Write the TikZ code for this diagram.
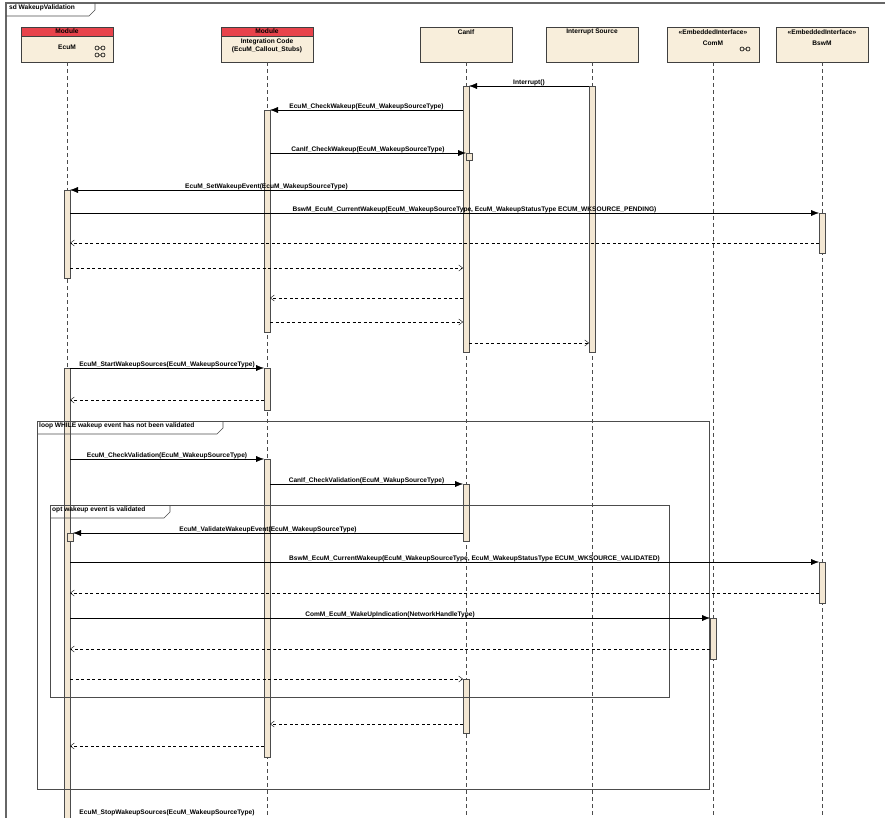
\documentclass[tikz,border=0pt]{standalone}
\usepackage{fontspec}
\setmainfont{Liberation Sans}
\usetikzlibrary{arrows.meta}
\definecolor{boxfill}{HTML}{F8EEDB}
\definecolor{actfill}{HTML}{F3E7D3}
\definecolor{modred}{HTML}{E8434B}
\newcommand\msgline[6]{%
  \coordinate (#1s) at (#3,-#2); \coordinate (#1e) at (#4,-#2);
  \draw[#5] (#1s) -- node[lbl,above=-1pt] {#6} (#1e);}
\begin{document}
\begin{tikzpicture}[x=1pt,y=1pt]
        \tikzstyle{every node}=[font=\fontsize{6.6}{7.6}\selectfont\bfseries]
        \tikzstyle{head}=[draw=black!75,fill=boxfill,minimum width=92pt,minimum height=35pt,inner sep=0pt]
        \tikzstyle{life}=[draw=black!70,dashed,dash pattern=on 4pt off 3pt]
        \tikzstyle{act}=[draw=black!70,fill=actfill,line width=.4pt]
        \tikzstyle{lbl}=[inner sep=1pt]
        \tikzstyle{call}=[draw,-{Latex[length=8pt,width=6pt]}]
        \tikzstyle{ret}=[draw,dashed,dash pattern=on 3pt off 2.5pt,-{Straight Barb[length=4pt,width=6pt]}]
        \tikzstyle{frm}=[draw=black!70,line width=.6pt]

        \useasboundingbox (0,0) rectangle (885,-818);
        % outer frame
        \draw[frm,line width=1.2pt,black!60] (6,-818) -- (6,-3) -- (885,-3);
        \node[anchor=north west,inner sep=2pt] (sd) at (7,-3) {sd WakeupValidation};
        \draw[frm] (6,-16) -- (89,-16) -- (95,-10) -- (95,-3);

        % lifeline heads
        \foreach \n/\x in {ecum/67, intc/267, canif/466, irq/592, comm/713, bswm/822} {
            \node[head,anchor=north] (\n) at (\x,-27) {};
            \draw[life] (\n.south) -- (\x,-818);
        };
        \foreach \n in {ecum, intc} {
            \fill[modred,draw=black!75] (\n.north west) rectangle ([yshift=-9pt]\n.north east);
            \node at ([yshift=-4.5pt]\n.north) {Module};
        };
        \node at ([yshift=-3pt]ecum.center) {EcuM};
        \node[align=center] at ([yshift=-1pt]intc.center) {Integration Code\\(EcuM\_Callout\_Stubs)};
        \node at ([yshift=-5pt]canif.north) {CanIf};
        \node at ([yshift=-5pt]irq.north) {Interrupt Source};
        \node at ([yshift=-5pt]comm.north) {«EmbeddedInterface»};
        \node at ([yshift=-16pt]comm.north) {ComM};
        \node at ([yshift=-5pt]bswm.north) {«EmbeddedInterface»};
        \node at ([yshift=-16pt]bswm.north) {BswM};
        % component symbols
        \foreach \p in {(100,-48),(100,-55),(745,-49)}
            \draw[line width=.6pt] \p ++(-3,0) circle (2pt) ++(6,0) circle (2pt) ++(-4,0) -- ++(2,0);

        % activations
        \foreach \x/\a/\b in {466/86/352, 592/86/352, 267/110/332, 67/190/278, 822/213/253,
                              267/368/410, 67/368/818, 267/459/757, 466/484/541,
                              822/562/603, 713/618/659, 466/679/733}
            \draw[act] (\x-3,-\a) rectangle (\x+3,-\b);
        \draw[act] (466,-153) rectangle (472,-160);
        \draw[act] (67,-533) rectangle (73,-541);

        % loop and opt fragments
        \draw[frm] (37,-421) rectangle (709,-789);
        \node[anchor=north west,inner sep=2pt] (loop) at (37,-421) {loop WHILE wakeup event has not been validated};
        \draw[frm] (37,-434) -- (217,-434) -- (223,-428) -- (223,-421);
        \draw[frm] (50,-505) rectangle (669,-697);
        \node[anchor=north west,inner sep=2pt] (opt) at (50,-505) {opt wakeup event is validated};
        \draw[frm] (50,-518) -- (164,-518) -- (170,-512) -- (170,-505);

        % messages
        \msgline{m1}{86}{589}{469}{call}{Interrupt()}
        \msgline{m2}{110}{463}{270}{call}{EcuM\_CheckWakeup(EcuM\_WakeupSourceType)}
        \msgline{m3}{153}{270}{466}{call}{CanIf\_CheckWakeup(EcuM\_WakeupSourceType)}
        \msgline{m4}{190}{463}{70}{call}{EcuM\_SetWakeupEvent(EcuM\_WakeupSourceType)}
        \coordinate (m5s) at (70,-213); \coordinate (m5e) at (819,-213);
        \draw[call] (m5s) -- node[lbl,above=-1pt,pos=.54] {BswM\_EcuM\_CurrentWakeup(EcuM\_WakeupSourceType, EcuM\_WakeupStatusType ECUM\_WKSOURCE\_PENDING)} (m5e);
        \msgline{m6}{243}{819}{70}{ret}{}
        \msgline{m7}{268}{70}{463}{ret}{}
        \msgline{m8}{298}{463}{270}{ret}{}
        \msgline{m9}{322}{270}{463}{ret}{}
        \msgline{m10}{343}{469}{589}{ret}{}
        \msgline{m11}{368}{70}{264}{call}{EcuM\_StartWakeupSources(EcuM\_WakeupSourceType)}
        \msgline{m12}{400}{264}{70}{ret}{}
        \msgline{m13}{459}{70}{264}{call}{EcuM\_CheckValidation(EcuM\_WakeupSourceType)}
        \msgline{m14}{484}{270}{463}{call}{CanIf\_CheckValidation(EcuM\_WakupSourceType)}
        \msgline{m15}{533}{463}{73}{call}{EcuM\_ValidateWakeupEvent(EcuM\_WakeupSourceType)}
        \coordinate (m16s) at (70,-562); \coordinate (m16e) at (819,-562);
        \draw[call] (m16s) -- node[lbl,above=-1pt,pos=.54] {BswM\_EcuM\_CurrentWakeup(EcuM\_WakeupSourceType, EcuM\_WakeupStatusType ECUM\_WKSOURCE\_VALIDATED)} (m16e);
        \msgline{m17}{593}{819}{70}{ret}{}
        \msgline{m18}{618}{70}{710}{call}{ComM\_EcuM\_WakeUpIndication(NetworkHandleType)}
        \msgline{m19}{649}{710}{70}{ret}{}
        \msgline{m20}{679}{70}{463}{ret}{}
        \msgline{m21}{724}{463}{270}{ret}{}
        \msgline{m22}{746}{264}{70}{ret}{}
        \coordinate (m23s) at (70,-823); \coordinate (m23e) at (264,-823);
        \draw[call] (m23s) -- node[lbl,above=6pt] {EcuM\_StopWakeupSources(EcuM\_WakeupSourceType)} (m23e);
\end{tikzpicture}
\end{document}
